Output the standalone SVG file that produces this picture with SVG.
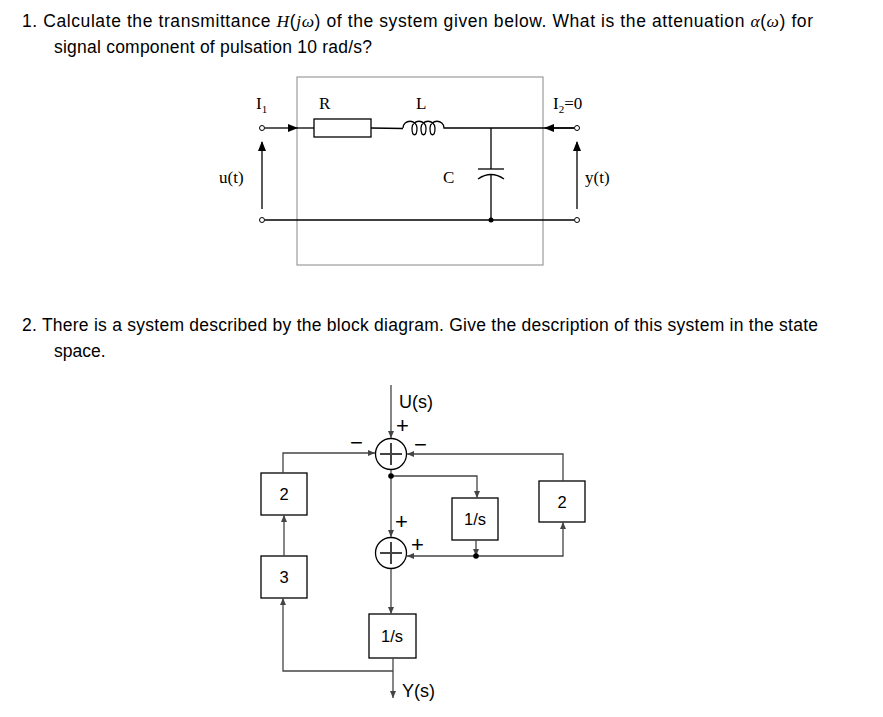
<svg xmlns="http://www.w3.org/2000/svg" width="883" height="717" viewBox="0 0 883 717">
<style>
.q{font-family:"Liberation Sans",Arial,sans-serif;font-size:17.5px;fill:#000}
.s{font-family:"Liberation Serif","Times New Roman",serif;font-size:17px;fill:#000}
.b{font-family:"Liberation Sans",Arial,sans-serif;font-size:16.5px;fill:#000}
.big{font-size:18px}
.sg{font-size:22px}
.w{stroke:#000;stroke-width:1.3;fill:none}
.g{stroke:#444;stroke-width:1.3;fill:none}
.bx{stroke:#000;stroke-width:1.3;fill:#fff}
</style>
<defs>
<marker id="a" markerWidth="10" markerHeight="8" refX="9" refY="4" orient="auto" markerUnits="userSpaceOnUse"><path d="M0,0L10,4L0,8z" fill="#000"/></marker>
<marker id="m" markerWidth="7" markerHeight="6" refX="7" refY="3" orient="auto" markerUnits="userSpaceOnUse"><path d="M0,0L7,3L0,6z" fill="#444"/></marker>
</defs>
<rect width="883" height="717" fill="#fff"/>
<text class="q" x="22" y="27" textLength="791" lengthAdjust="spacing">1.  Calculate the transmittance <tspan font-family="Liberation Serif" font-style="italic">H</tspan>(<tspan font-family="Liberation Serif" font-style="italic">jω</tspan>) of the system given below. What is the attenuation <tspan font-family="Liberation Serif" font-style="italic">α</tspan>(<tspan font-family="Liberation Serif" font-style="italic">ω</tspan>) for</text>
<text class="q" x="54" y="53" textLength="318" lengthAdjust="spacing">signal component of pulsation 10 rad/s?</text>
<text class="q" x="22" y="331" textLength="796" lengthAdjust="spacing">2.  There is a system described by the block diagram. Give the description of this system in the state</text>
<text class="q" x="54" y="357">space.</text>

<g id="circuit">
<rect x="297" y="77" width="246" height="188" fill="none" stroke="#888" stroke-width="1"/>
<circle cx="262" cy="128" r="2.5" fill="#fff" stroke="#000"/>
<circle cx="262" cy="220" r="2.5" fill="#fff" stroke="#000"/>
<circle cx="577" cy="128" r="2.5" fill="#fff" stroke="#000"/>
<circle cx="577" cy="220" r="2.5" fill="#fff" stroke="#000"/>
<line class="w" x1="265" y1="128" x2="297" y2="128" marker-end="url(#a)"/>
<line class="w" x1="297" y1="128" x2="314" y2="128"/>
<rect class="w" x="314" y="119" width="57" height="18"/>
<path class="w" d="M371,128L403,128.5 M403,128 c0,-9 14,-9 14,0 c0,9 -5,9 -5,0 c0,-9 14,-9 14,0 c0,9 -5,9 -5,0 c0,-9 14,-9 14,0 c0,9 -5,9 -5,0 c0,-9 14,-9 14,0 L462,128"/>
<line class="w" x1="462" y1="128" x2="574" y2="128"/>
<line class="w" x1="574" y1="128" x2="545" y2="128" marker-end="url(#a)"/>
<line class="w" x1="491" y1="128" x2="491" y2="169"/>
<line class="w" x1="478" y1="169" x2="504" y2="169"/>
<path class="w" d="M478,179 Q491,170 504,179"/>
<line class="w" x1="491" y1="174" x2="491" y2="220"/>
<line class="w" x1="265" y1="220" x2="574" y2="220"/>
<circle cx="491" cy="220" r="2.5" fill="#000"/>
<line class="w" x1="262" y1="209" x2="262" y2="142" marker-end="url(#a)"/>
<line class="w" x1="577" y1="209" x2="577" y2="142" marker-end="url(#a)"/>
<text class="s" x="256" y="109">I<tspan font-size="11" dy="4">1</tspan></text>
<text class="s" x="319" y="109">R</text>
<text class="s" x="416" y="109">L</text>
<text class="s" x="553" y="109">I<tspan font-size="11" dy="4">2</tspan><tspan dy="-4">=0</tspan></text>
<text class="s" x="219" y="183">u(t)</text>
<text class="s" x="443" y="183">C</text>
<text class="s" x="585" y="183">y(t)</text>
</g>

<g id="sum1"><circle cx="391" cy="454" r="15.5" fill="#fff" stroke="#000" stroke-width="1.3"/><path d="M391,443V465M380,454H402" stroke="#444" stroke-width="2"/></g>
<g id="sum2"><circle cx="391" cy="553" r="15.5" fill="#fff" stroke="#000" stroke-width="1.3"/><path d="M391,542V564M380,553H402" stroke="#444" stroke-width="2"/></g>
<g id="box2l"><rect class="bx" x="261" y="473" width="46" height="42"/><text class="b" x="284" y="500" text-anchor="middle">2</text></g>
<g id="box3"><rect class="bx" x="261" y="556" width="46" height="42"/><text class="b" x="284" y="583" text-anchor="middle">3</text></g>
<g id="boxint1"><rect class="bx" x="452" y="498" width="46" height="42"/><text class="b" x="475" y="525" text-anchor="middle">1/s</text></g>
<g id="box2r"><rect class="bx" x="539" y="481" width="46" height="41"/><text class="b" x="562" y="508" text-anchor="middle">2</text></g>
<g id="boxint2"><rect class="bx" x="369" y="614" width="47" height="44"/><text class="b" x="392" y="642" text-anchor="middle">1/s</text></g>

<g id="connectors">
<line class="g" x1="391" y1="385" x2="391" y2="438" marker-end="url(#m)"/>
<polyline class="g" points="283,473 283,453 375,453" marker-end="url(#m)"/>
<polyline class="g" points="563,481 563,454 407,454" marker-end="url(#m)"/>
<line class="g" x1="391" y1="470" x2="391" y2="537" marker-end="url(#m)"/>
<polyline class="g" points="391,476 477,476 477,498" marker-end="url(#m)"/>
<circle cx="391" cy="476" r="2.8" fill="#000"/>
<line class="g" x1="476" y1="540" x2="476" y2="556" marker-end="url(#m)"/>
<line class="g" x1="476" y1="556" x2="407" y2="556" marker-end="url(#m)"/>
<polyline class="g" points="476,556 563,556 563,522" marker-end="url(#m)"/>
<circle cx="476" cy="556" r="2.8" fill="#000"/>
<line class="g" x1="391" y1="569" x2="391" y2="614" marker-end="url(#m)"/>
<line class="g" x1="393" y1="658" x2="393" y2="698" marker-end="url(#m)"/>
<polyline class="g" points="393,671 283,671 283,598" marker-end="url(#m)"/>
<line class="g" x1="284" y1="556" x2="284" y2="515" marker-end="url(#m)"/>
</g>
<g id="labels">
<text class="b big" x="399" y="408">U(s)</text>
<text class="b sg" x="396" y="433">+</text>
<text class="b sg" x="350" y="450">−</text>
<text class="b sg" x="414" y="452">−</text>
<text class="b sg" x="395" y="529">+</text>
<text class="b sg" x="411" y="552">+</text>
<text class="b big" x="402" y="697">Y(s)</text>
</g>
</svg>
